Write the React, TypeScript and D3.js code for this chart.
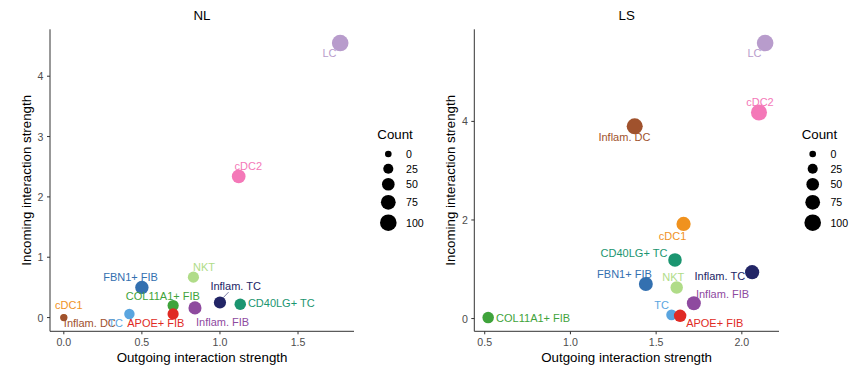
import React, { useEffect } from 'react'
import * as d3 from 'd3'

// cell groups, shared colours
const groups = ['cDC1', 'Inflam. DC', 'TC', 'FBN1+ FIB', 'COL11A1+ FIB', 'APOE+ FIB', 'NKT', 'Inflam. FIB', 'Inflam. TC', 'CD40LG+ TC', 'cDC2', 'LC']
const groupColors = ['#F0921E', '#A0522D', '#5AA5DF', '#3370B0', '#3FA33B', '#E02A24', '#B0DC88', '#8E4A9F', '#222566', '#1B9570', '#F478B8', '#B89CCC']

// NL values
const nlOutgoing = [0.0, 0.0, 0.42, 0.5, 0.7, 0.7, 0.83, 0.84, 1.0, 1.13, 1.12, 1.77]
const nlIncoming = [0.0, 0.0, 0.06, 0.5, 0.2, 0.06, 0.67, 0.16, 0.25, 0.22, 2.34, 4.55]
const nlCount = [0, 4, 28, 58, 35, 35, 35, 55, 45, 38, 62, 100]

// LS values
const lsOutgoing = [1.66, 1.375, 1.59, 1.44, 0.52, 1.64, 1.62, 1.72, 2.06, 1.61, 2.1, 2.136]
const lsIncoming = [1.92, 3.9, 0.075, 0.7, 0.02, 0.055, 0.63, 0.31, 0.94, 1.19, 4.18, 5.59]
const lsCount = [68, 92, 30, 65, 38, 48, 48, 65, 68, 60, 92, 100]

const nlXTicks = [0, 0.5, 1, 1.5]
const nlYTicks = [0, 1, 2, 3, 4]
const lsXTicks = [0.5, 1, 1.5, 2]
const lsYTicks = [0, 2, 4]
const legendBreaks = [0, 25, 50, 75, 100]

// label placement (pixels from the point centre), ggrepel-like
const nlLabelOffsets: Record<string, [number, number]> = {
  'cDC1': [5, -12.3],
  'Inflam. DC': [26, 5.6],
  'TC': [-13.7, 9.3],
  'FBN1+ FIB': [-11.3, -10],
  'COL11A1+ FIB': [-10.3, -10],
  'APOE+ FIB': [-17.3, 9.3],
  'NKT': [10.6, -10],
  'Inflam. FIB': [27.6, 13.7],
  'Inflam. TC': [15.7, -16.7],
  'CD40LG+ TC': [41, -1.4],
  'cDC2': [9.6, -10],
  'LC': [-10.7, 10],
}
const lsLabelOffsets: Record<string, [number, number]> = {
  'cDC1': [-11, 11.7],
  'Inflam. DC': [-10.3, 10.6],
  'TC': [-10, -10],
  'FBN1+ FIB': [-21.4, -10.3],
  'COL11A1+ FIB': [45, 0.6],
  'APOE+ FIB': [34.6, 6.7],
  'NKT': [-3.4, -10.4],
  'Inflam. FIB': [28.7, -9.3],
  'Inflam. TC': [-32.3, 3.7],
  'CD40LG+ TC': [-41, -6.7],
  'cDC2': [1, -11],
  'LC': [-10.7, 10],
}
const nlSegments = ['Inflam. TC']

const FONT = '"Liberation Sans", Arial, Helvetica, sans-serif'

const areaScale = d3.scaleLinear().domain([0, 100]).range([11, 69])
const radius = (c: number) => Math.sqrt(areaScale(c))

function expand(vals: number[]): [number, number] {
  const [lo, hi] = d3.extent(vals) as [number, number]
  const pad = (hi - lo) * 0.05
  return [lo - pad, hi + pad]
}

type PanelProps = {
  title: string
  xs: number[]
  ys: number[]
  counts: number[]
  xTicks: number[]
  yTicks: number[]
  offsets: Record<string, [number, number]>
  segments: string[]
  left: number
  right: number
  legendX: number
}

function Panel({ title, xs, ys, counts, xTicks, yTicks, offsets, segments, left, right, legendX }: PanelProps) {
  const top = 29.3
  const bottom = 331.3
  const x = d3.scaleLinear().domain(expand(xs)).range([left, right])
  const y = d3.scaleLinear().domain(expand(ys)).range([bottom, top])
  const fmtX = d3.format('.1f')
  const cx = (left + right) / 2
  const cy = (top + bottom) / 2
  const legendYs = [154, 168.7, 184.3, 202.3, 222.7]

  return (
    <g fontFamily={FONT}>
      <text x={cx} y={15} textAnchor="middle" dominantBaseline="central" fontSize={13.3} fill="#000">{title}</text>
      {groups.map((g, i) => (
        <circle key={g} cx={x(xs[i])} cy={y(ys[i])} r={radius(counts[i])} fill={groupColors[i]} />
      ))}
      {groups.map((g, i) => {
        const [dx, dy] = offsets[g]
        const px = x(xs[i])
        const py = y(ys[i])
        return (
          <g key={g}>
            {segments.includes(g) && (
              <line x1={px + dx * 0.2} y1={py + dy * 0.28} x2={px + dx * 0.55} y2={py + dy * 0.62} stroke={groupColors[i]} strokeWidth={0.6} />
            )}
            <text x={px + dx} y={py + dy} textAnchor="middle" dominantBaseline="central" fontSize={11} fill={groupColors[i]}>{g}</text>
          </g>
        )
      })}
      {/* axes */}
      <line x1={left} x2={left} y1={top} y2={bottom} stroke="#333" strokeWidth={1} />
      <line x1={left} x2={right} y1={bottom} y2={bottom} stroke="#333" strokeWidth={1} />
      {xTicks.map((t) => (
        <g key={'x' + t}>
          <line x1={x(t)} x2={x(t)} y1={bottom} y2={bottom + 3} stroke="#333" strokeWidth={1} />
          <text x={x(t)} y={342.3} textAnchor="middle" dominantBaseline="central" fontSize={10.6} fill="#4D4D4D">{fmtX(t)}</text>
        </g>
      ))}
      {yTicks.map((t) => (
        <g key={'y' + t}>
          <line x1={left - 3} x2={left} y1={y(t)} y2={y(t)} stroke="#333" strokeWidth={1} />
          <text x={left - 6.5} y={y(t)} textAnchor="end" dominantBaseline="central" fontSize={10.6} fill="#4D4D4D">{t}</text>
        </g>
      ))}
      <text x={cx} y={357.7} textAnchor="middle" dominantBaseline="central" fontSize={13.3} fill="#000">Outgoing interaction strength</text>
      <text transform={`translate(${left - 23.5},${cy}) rotate(-90)`} textAnchor="middle" dominantBaseline="central" fontSize={13.3} fill="#000">Incoming interaction strength</text>
      {/* legend */}
      <text x={legendX} y={134.3} dominantBaseline="central" fontSize={13.3} fill="#000">Count</text>
      {legendBreaks.map((b, i) => (
        <g key={'l' + b}>
          <circle cx={legendX + 11} cy={legendYs[i]} r={radius(b)} fill="#000" />
          <text x={legendX + 28.7} y={legendYs[i]} dominantBaseline="central" fontSize={10.6} fill="#000">{b}</text>
        </g>
      ))}
    </g>
  )
}

export default function App() {
  useEffect(() => {
    document.body.style.margin = '0'
  }, [])
  return (
    <svg width={855} height={367} style={{ display: 'block', background: '#fff' }}>
      <Panel title="NL" xs={nlOutgoing} ys={nlIncoming} counts={nlCount} xTicks={nlXTicks} yTicks={nlYTicks}
        offsets={nlLabelOffsets} segments={nlSegments} left={50} right={354} legendX={377.3} />
      <Panel title="LS" xs={lsOutgoing} ys={lsIncoming} counts={lsCount} xTicks={lsXTicks} yTicks={lsYTicks}
        offsets={lsLabelOffsets} segments={[]} left={474.3} right={779} legendX={801.7} />
    </svg>
  )
}
